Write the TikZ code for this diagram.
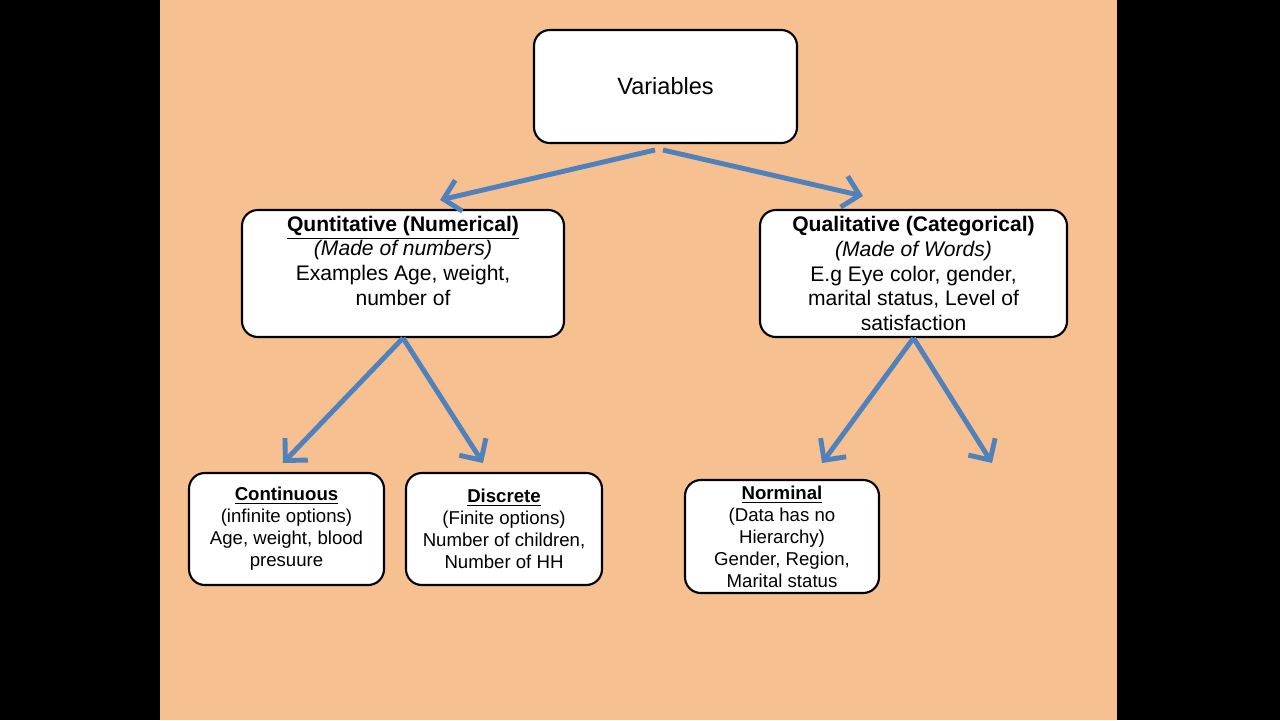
\documentclass[tikz,border=0pt]{standalone}
\usepackage{fontspec}
\setmainfont{Liberation Sans}
\usetikzlibrary{arrows.meta}
\definecolor{panel}{RGB}{247,192,144}
\definecolor{arrowblue}{RGB}{79,129,189}

\begin{document}
\begin{tikzpicture}[x=0.02cm,y=-0.02cm,
    box/.style={draw=black, line width=1.2pt, fill=white, rounded corners=9pt, align=center, inner sep=0pt},
    link/.style={draw=arrowblue, line width=2.8pt, -{Straight Barb[length=9pt,width=18pt,line width=2.8pt]}}]
                  % Background
                  \fill[black] (0,0) rectangle (1280,720);
                  \fill[panel] (160,0) rectangle (1117,720);

                  % Boxes
                  \node[box, minimum width=263*0.02cm, minimum height=113*0.02cm, font=\fontsize{13.4}{15}\selectfont] (var) at (665.5,86.5) {Variables};
                  \node[box, minimum width=322*0.02cm, minimum height=127*0.02cm, font=\fontsize{12}{14.2}\selectfont] (quant) at (403,273.5)
                      {\textbf{\underline{Quntitative (Numerical)}}\\ \textit{(Made of numbers)}\\ Examples Age, weight,\\ number of\\[-4pt] \strut};
                  \node[box, minimum width=307*0.02cm, minimum height=127*0.02cm, font=\fontsize{12}{14.2}\selectfont] (qual) at (913.5,273.5)
                      {\textbf{Qualitative (Categorical)}\\ \textit{(Made of Words)}\\ E.g Eye color, gender,\\ marital status, Level of\\ satisfaction};
                  \node[box, minimum width=195*0.02cm, minimum height=112*0.02cm, font=\fontsize{10.6}{12.5}\selectfont] (cont) at (286.5,529)
                      {\textbf{\underline{Continuous}}\\ (infinite options)\\ Age, weight, blood\\ presuure};
                  \node[box, minimum width=196*0.02cm, minimum height=112*0.02cm, font=\fontsize{10.6}{12.5}\selectfont] (disc) at (504,529)
                      {\textbf{\underline{Discrete}}\\ (Finite options)\\ Number of children,\\ Number of HH};
                  \node[box, minimum width=194*0.02cm, minimum height=113*0.02cm, font=\fontsize{10.6}{12.5}\selectfont] (nom) at (782,536.5)
                      {\textbf{\underline{Norminal}}\\ (Data has no\\ Hierarchy)\\ Gender, Region,\\ Marital status};

                  % Arrow ends
                  \coordinate (vl) at (655,150);
                  \coordinate (vr) at (663,150);
                  \coordinate (quantTip) at (440,200);
                  \coordinate (qualTip) at (863,196);
                  \coordinate (contTip) at (283,463);
                  \coordinate (discTip) at (483,463);
                  \coordinate (nomTip) at (822,463);
                  \coordinate (ordTip) at (992,463);

                  % Arrows
                  \draw[link] (vl) -- (quantTip);
                  \draw[link] (vr) -- (qualTip);
                  \draw[link] (quant.south) -- (contTip);
                  \draw[link] (quant.south) -- (discTip);
                  \draw[link] (qual.south) -- (nomTip);
                  \draw[link] (qual.south) -- (ordTip);
\end{tikzpicture}
\end{document}
